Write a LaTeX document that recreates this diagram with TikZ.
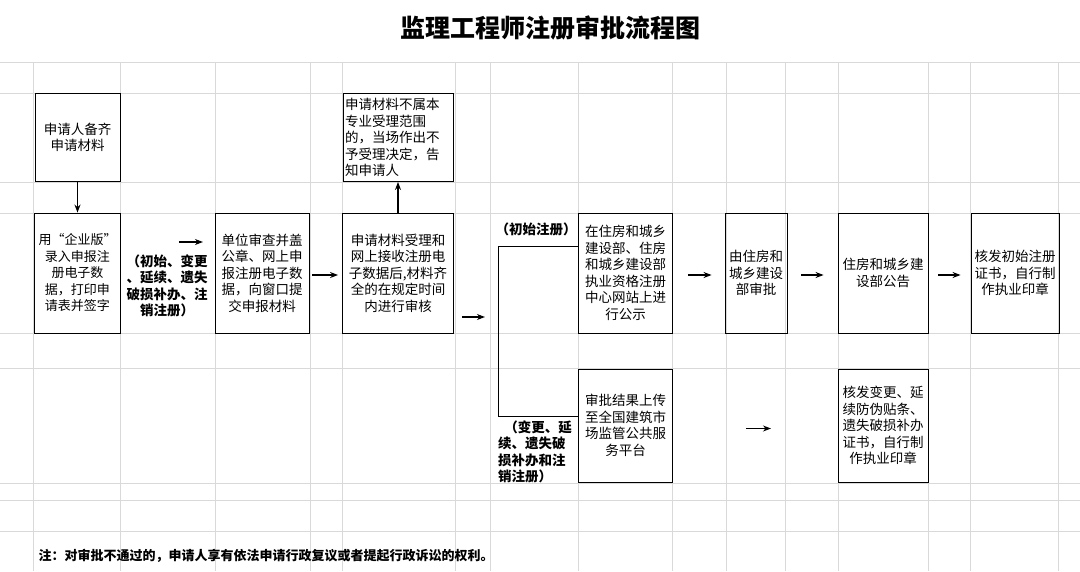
\documentclass[tikz,border=0pt]{standalone}
\usepackage{fontspec}
\setmainfont{Noto Sans CJK SC}
\usetikzlibrary{positioning,arrows.meta,calc}
\tikzset{
  box/.style={draw, line width=0.9pt, inner sep=2pt, align=center,
    font=\fontsize{13.5}{16.5}\selectfont},
  lbl/.style={align=center, font=\fontsize{13.5}{16.5}\selectfont\bfseries},
  arr/.style={-{Stealth[length=8pt,width=6pt]}, line width=1.1pt},
  gridline/.style={draw=black!15, line width=0.5pt}
}
\begin{document}
\begin{tikzpicture}[x=1pt,y=-1pt]
        \useasboundingbox (0,0) rectangle (1080,571);
        % grid
        \foreach \gx in {33,120,215,310,342,455,490,578,672,726,785,838,928,970,1058}
          \draw[gridline] (\gx,62) -- (\gx,571);
        \foreach \gy in {62,93,182,213,333,368,483,500,531}
          \draw[gridline] (0,\gy) -- (1080,\gy);

        \node[font=\fontsize{25}{30}\selectfont\bfseries] (title) at (550,28) {监理工程师注册审批流程图};

        % first column
        \node[box, minimum width=85, minimum height=88] (prep) at (77.5,137.5) {申请人备齐\\申请材料};
        \node[box, minimum width=85, minimum height=120, text width=82, font=\fontsize{13}{16.5}\selectfont] (input) at (77.5,273) {用“企业版”\\录入申报注\\册电子数\\据，打印申\\请表并签字};
        \node[lbl] (kinds) at (167,286) {（初始、变更\\、延续、遗失\\破损补办、注\\销注册）};
        \node[box, minimum width=93, minimum height=120, text width=90] (unit) at (262,273) {单位审查并盖\\公章、网上申\\报注册电子数\\据，向窗口提\\交申报材料};
        \node[box, minimum width=110, minimum height=120, text width=107] (accept) at (398,273) {申请材料受理和\\网上接收注册电\\子数据后,材料齐\\全的在规定时间\\内进行审核};
        \node[box, minimum width=110, minimum height=88, text width=106, align=left, inner sep=1pt] (reject) at (398,137.5) {申请材料不属本\\专业受理范围\\的，当场作出不\\予受理决定，告\\知申请人};

        % branch
        \coordinate (split) at (498,246);
        \coordinate (splitlow) at (498,416);
        \node[lbl] (initlbl) at (536,229) {（初始注册）};
        \node[lbl, align=left] (otherlbl) at (535,452) {\ \ （变更、延\\续、遗失破\\损补办和注\\销注册）};

        \node[box, minimum width=93, minimum height=120, text width=90] (publicity) at (625.5,273) {在住房和城乡\\建设部、住房\\和城乡建设部\\执业资格注册\\中心网站上进\\行公示};
        \node[box, minimum width=60, minimum height=120, text width=58] (approve) at (756,273) {由住房和\\城乡建设\\部审批};
        \node[box, minimum width=88, minimum height=120, text width=86] (notice) at (883,273) {住房和城乡建\\设部公告};
        \node[box, minimum width=86, minimum height=120, text width=84] (issue) at (1015,273) {核发初始注册\\证书，自行制\\作执业印章};
        \node[box, minimum width=93, minimum height=113, text width=90] (upload) at (625.5,425.5) {审批结果上传\\至全国建筑市\\场监管公共服\\务平台};
        \node[box, minimum width=88, minimum height=113, text width=86] (issue2) at (883,425.5) {核发变更、延\\续防伪贴条、\\遗失破损补办\\证书，自行制\\作执业印章};

        \node[font=\fontsize{13}{15}\selectfont\bfseries, anchor=west] (note) at (35,556) {注：对审批不通过的，申请人享有依法申请行政复议或者提起行政诉讼的权利。};

        % connectors
        \draw[line width=0.9pt] (publicity.west |- split) -- (split) -- (splitlow) -- (upload.west |- splitlow);
        \draw[arr] (prep) -- (input);
        \draw[arr] (accept.north) -- (reject.south);
        \draw[arr] ($(input.east)+(58,-31)$) -- ($(input.east)+(82,-31)$);
        \draw[arr] ($(unit.east)+(3,2)$) -- ($(accept.west)+(-4,2)$);
        \draw[arr] ($(accept.east)+(8,44)$) -- ($(accept.east)+(31,44)$);
        \draw[arr] ($(publicity.east)+(15,2)$) -- ($(approve.west)+(-13,2)$);
        \draw[arr] ($(approve.east)+(14,2)$) -- ($(notice.west)+(-14,2)$);
        \draw[arr] ($(notice.east)+(10,2)$) -- ($(issue.west)+(-10,2)$);
        \draw[arr] ($(upload.east)+(73,3)$) -- ($(upload.east)+(98,3)$);
\end{tikzpicture}
\end{document}
